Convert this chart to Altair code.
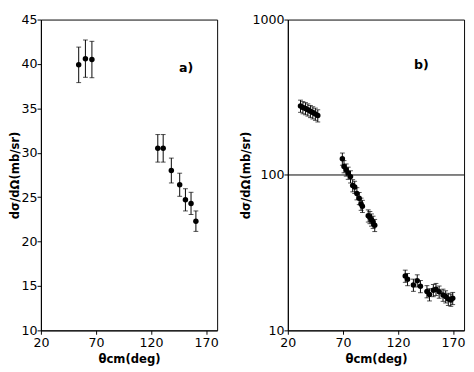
import altair as alt
import pandas as pd

# Panel a) data
a_theta = [54.3, 60.4, 66.3, 126.1, 131.0, 138.4, 146.0, 151.2, 156.3, 160.7]
a_val = [39.9, 40.6, 40.5, 30.5, 30.5, 28.0, 26.4, 24.7, 24.3, 22.3]
a_err = [2.0, 2.1, 2.05, 1.55, 1.55, 1.4, 1.3, 1.25, 1.25, 1.15]

# Panel b) data
b_theta = [31.5, 33.7, 36.0, 38.2, 40.5, 42.7, 45.0, 47.2,
           69.5, 71.0, 73.0, 74.8, 76.9, 78.9, 80.7, 82.7, 84.8, 86.5, 87.7,
           93.0, 94.5, 95.9, 97.4, 98.9,
           126.6, 128.7, 134.0, 137.5, 140.4, 146.3, 148.6, 152.1, 154.5,
           157.4, 160.9, 163.3, 165.7, 168.0, 169.7]
b_val = [278, 272, 268, 263, 257, 252, 247, 241,
         127, 113.5, 108, 103, 97.6, 85.6, 83.6, 76, 70.8, 65.1, 63,
         54.7, 53.4, 51.5, 49.8, 47.5,
         22.4, 21.3, 19.6, 20.9, 19.2, 17.8, 17.0, 18.1, 18.4,
         17.7, 16.9, 16.5, 15.9, 15.7, 16.1]
b_relerr = 0.09

x_ticks = [20, 70, 120, 170]
a_yticks = [10, 15, 20, 25, 30, 35, 40, 45]
b_yticks = [10, 100, 1000]

FONT = "DejaVu Sans"

da = pd.DataFrame({"t": a_theta, "v": a_val,
                   "lo": [v - e for v, e in zip(a_val, a_err)],
                   "hi": [v + e for v, e in zip(a_val, a_err)]})
db = pd.DataFrame({"t": b_theta, "v": b_val,
                   "lo": [v * (1 - b_relerr) for v in b_val],
                   "hi": [v * (1 + b_relerr) for v in b_val]})

xscale = alt.Scale(domain=[20, 180], nice=False, zero=False)
xaxis = alt.Axis(values=x_ticks, title="θcm(deg)", grid=False)
ytitle = "dσ/dΩ(mb/sr)"

W, H = 182, 321

# Panel a
ya = alt.Scale(domain=[10, 45], nice=False, zero=False)
base_a = alt.Chart(da)
err_a = base_a.mark_errorbar(ticks={"size": 5, "color": "black"}, color="black", thickness=1).encode(
    x=alt.X("t:Q", scale=xscale, axis=xaxis),
    y=alt.Y("lo:Q", scale=ya, axis=alt.Axis(values=a_yticks, title=ytitle, grid=False)),
    y2="hi:Q",
)
pts_a = base_a.mark_point(filled=True, color="black", size=32, opacity=1).encode(
    x=alt.X("t:Q", scale=xscale), y=alt.Y("v:Q", scale=ya)
)
lab_a = alt.Chart(pd.DataFrame({"t": [151.9], "v": [39.5], "s": ["a)"]})).mark_text(
    font=FONT, fontSize=13, fontWeight="bold", color="black"
).encode(x=alt.X("t:Q", scale=xscale), y=alt.Y("v:Q", scale=ya), text="s:N")
panel_a = alt.layer(err_a, pts_a, lab_a).properties(width=W, height=H)

# Panel b
yb = alt.Scale(type="log", domain=[10, 1000], nice=False)
base_b = alt.Chart(db)
err_b = base_b.mark_errorbar(ticks={"size": 5, "color": "black"}, color="black", thickness=1).encode(
    x=alt.X("t:Q", scale=xscale, axis=xaxis),
    y=alt.Y("lo:Q", scale=yb, axis=alt.Axis(values=b_yticks, title=ytitle, grid=False, format="d")),
    y2="hi:Q",
)
pts_b = base_b.mark_point(filled=True, color="black", size=32, opacity=1).encode(
    x=alt.X("t:Q", scale=xscale), y=alt.Y("v:Q", scale=yb)
)
rule_b = alt.Chart(pd.DataFrame({"y": [100]})).mark_rule(color="black", strokeWidth=1).encode(
    y=alt.Y("y:Q", scale=yb)
)
lab_b = alt.Chart(pd.DataFrame({"t": [141.3], "v": [507], "s": ["b)"]})).mark_text(
    font=FONT, fontSize=13, fontWeight="bold", color="black"
).encode(x=alt.X("t:Q", scale=xscale), y=alt.Y("v:Q", scale=yb), text="s:N")
panel_b = alt.layer(rule_b, err_b, pts_b, lab_b).properties(width=W, height=H)

chart = alt.hconcat(panel_a, panel_b, spacing=20).properties(
    padding={"left": -1, "top": -1, "right": 0, "bottom": 0}, background="white"
).configure_view(stroke="black", strokeWidth=1).configure_axis(
    domainColor="black", tickColor="black", tickSize=4, labelColor="black",
    labelFont=FONT, labelFontSize=13,
    titleFont=FONT, titleFontSize=12, titleFontWeight="bold", titleColor="black",
    labelFlush=False
).configure_axisY(labelPadding=0, titlePadding=0).configure_axisX(
    labelPadding=3, titlePadding=4
)

chart.save("out.html", embed_options={"renderer": "svg", "actions": False})
